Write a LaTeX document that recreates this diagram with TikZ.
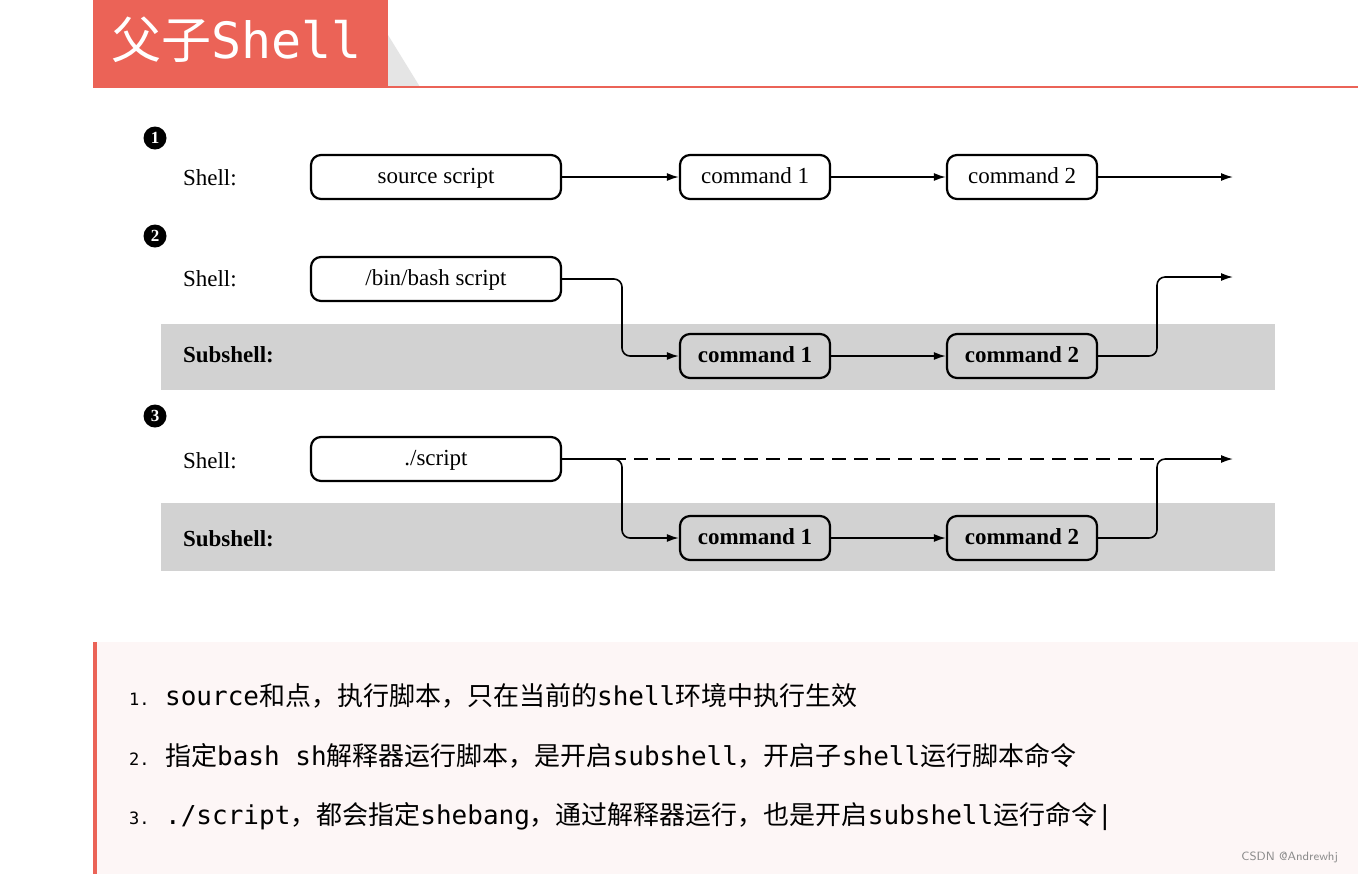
\documentclass[tikz,border=0pt]{standalone}
\usepackage{fontspec}
\setmainfont{Liberation Serif}
\setmonofont{DejaVu Sans Mono}
\newfontfamily\cjk{Noto Sans CJK SC}
\newfontfamily\cjkm{Noto Sans CJK SC Medium}
\newcommand\cn[1]{{\cjk #1}}
\usetikzlibrary{arrows.meta}
\definecolor{tred}{HTML}{EB6357}
\definecolor{band}{HTML}{D2D2D2}
\definecolor{pinkbg}{HTML}{FDF6F6}
\begin{document}
\begin{tikzpicture}[x=0.5pt,y=-0.5pt,
  cmd/.style={draw,line width=1.1pt,rounded corners=5pt,minimum width=75pt,minimum height=22pt,font=\fontsize{11.5}{13}\selectfont,inner sep=0pt,text height=6.5pt,text depth=0.5pt},
  wide/.style={cmd,minimum width=125pt},
  lbl/.style={anchor=west,font=\fontsize{11.5}{13}\selectfont},
  num/.style={circle,fill=black,text=white,inner sep=0pt,minimum size=11.5pt,font=\bfseries\fontsize{8.5}{8}\selectfont},
  conn/.style={line width=0.8pt,-{Latex[length=6pt,width=4pt]},rounded corners=4pt},
  line/.style={line width=0.8pt,rounded corners=4pt},
  note/.style={anchor=west,font=\ttfamily\fontsize{13}{15}\selectfont}]
\useasboundingbox (0,0) rectangle (1358,874);
\fill[white] (0,0) rectangle (1358,874);
% title
\fill[black!10] (388,35) -- (420,87) -- (388,87) -- cycle;
\fill[tred] (93,0) rectangle (388,87);
\draw[tred,line width=1pt] (93,87) -- (1358,87);
\node[anchor=west,text=white,font=\fontsize{25}{28}\selectfont] (title) at (104,40) {{\cjk 父子}\ttfamily Shell};
% bands
\fill[band] (161,324) rectangle (1275,390);
\fill[band] (161,503) rectangle (1275,571);
% numbers
\node[num] (n1) at (155,138) {1};
\node[num] (n2) at (155,236) {2};
\node[num] (n3) at (155,416) {3};
% labels
\node[lbl] (l1) at (176,178) {Shell:};
\node[lbl] (l2) at (176,279) {Shell:};
\node[lbl,font=\bfseries\fontsize{11.5}{13}\selectfont] (l2s) at (176,355) {Subshell:};
\node[lbl] (l3) at (176,461) {Shell:};
\node[lbl,font=\bfseries\fontsize{11.5}{13}\selectfont] (l3s) at (176,539) {Subshell:};
% row 1
\node[wide] (s1) at (436,177) {source script};
\node[cmd] (a1) at (755,177) {command 1};
\node[cmd] (b1) at (1022,177) {command 2};
\coordinate (e1) at (1233,177);
\draw[conn] (s1) -- (a1);
\draw[conn] (a1) -- (b1);
\draw[conn] (b1) -- (e1);
% row 2
\node[wide] (s2) at (436,279) {/bin/bash script};
\node[cmd,font=\bfseries\fontsize{11.5}{13}\selectfont] (a2) at (755,356) {command 1};
\node[cmd,font=\bfseries\fontsize{11.5}{13}\selectfont] (b2) at (1022,356) {command 2};
\coordinate (e2) at (1233,277);
\draw[conn] (s2.east) -- (622,279) -- (622,356) -- (a2.west);
\draw[conn] (a2) -- (b2);
\draw[conn] (b2.east) -- (1157,356) -- (1157,277) -- (e2);
% row 3
\node[wide] (s3) at (436,459) {./script};
\node[cmd,font=\bfseries\fontsize{11.5}{13}\selectfont] (a3) at (755,538) {command 1};
\node[cmd,font=\bfseries\fontsize{11.5}{13}\selectfont] (b3) at (1022,538) {command 2};
\coordinate (e3) at (1233,459);
\draw[line,dashed,dash pattern=on 7pt off 4pt] (612,459) -- (1160,459);
\draw[conn] (s3.east) -- (622,459) -- (622,538) -- (a3.west);
\draw[conn] (a3) -- (b3);
\draw[conn] (b3.east) -- (1157,538) -- (1157,459) -- (e3);
% notes
\fill[pinkbg] (93,642) rectangle (1358,874);
\fill[tred] (93,642) rectangle (97,874);
\node[note] (t1) at (122,696) {{\fontsize{8.5}{8}\selectfont 1.} source\cn{和点，执行脚本，只在当前的}shell\cn{环境中执行生效}};
\node[note] (t2) at (122,756) {{\fontsize{8.5}{8}\selectfont 2.} \cn{指定}bash sh\cn{解释器运行脚本，是开启}subshell\cn{，开启子}shell\cn{运行脚本命令}};
\node[note] (t3) at (122,816) {{\fontsize{8.5}{8}\selectfont 3.} ./script\cn{，都会指定}shebang\cn{，通过解释器运行，也是开启}subshell\cn{运行命令}|};
\node[anchor=east,text=black!45,font=\sffamily\fontsize{6}{7}\selectfont] (wm) at (1345,857) {CSDN @Andrewhj};
\end{tikzpicture}
\end{document}
